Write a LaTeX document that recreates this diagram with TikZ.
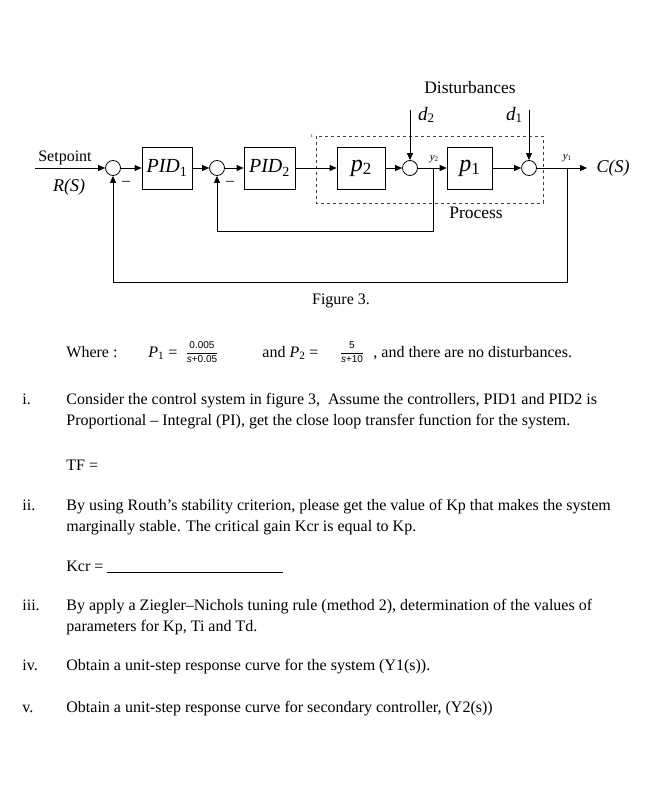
\documentclass[tikz,border=0pt]{standalone}
\usepackage{fontspec}
\setmainfont{Liberation Serif}
\setsansfont{Liberation Sans}
\usetikzlibrary{arrows.meta}
\newcommand{\bigsym}[2]{{\fontsize{24}{24}\selectfont\itshape #1}\raisebox{-3pt}{\fontsize{17}{17}\selectfont #2}}
\newcommand{\dsym}[2]{{\fontsize{19}{19}\selectfont\itshape #1}\raisebox{-2.5pt}{\fontsize{13}{13}\selectfont #2}}
\begin{document}
\begin{tikzpicture}[x=1pt,y=-1pt,
  line width=0.8pt,
  arr/.style={-{Triangle[length=7pt,width=6pt]}},
  blk/.style={draw,minimum width=50pt,minimum height=42pt,inner sep=0pt},
  sumnode/.style={draw,circle,minimum size=15pt,inner sep=0pt},
  txt/.style={font=\fontsize{16}{18}\selectfont,anchor=base west,inner sep=0pt},
  lbl/.style={font=\fontsize{16}{18}\selectfont,inner sep=0pt}]
\useasboundingbox (0,0) rectangle (653,786);

% ---- block diagram ----
\coordinate (in) at (35,168);
\node[sumnode] (s1) at (113,168) {};
\node[blk] (pid1) at (167,168) {\fontsize{20}{22}\selectfont\itshape PID\textsubscript{\upshape 1}};
\node[sumnode] (s2) at (217,168) {};
\node[blk,minimum width=51pt] (pid2) at (269.5,168) {\fontsize{20}{22}\selectfont\itshape PID\textsubscript{\upshape 2}};
\node[blk,minimum width=48pt] (p2) at (361,168) {\bigsym{p}{2}};
\node[sumnode] (s3) at (410,168) {};
\node[blk,minimum width=45pt] (p1) at (469.5,168) {\bigsym{p}{1}};
\node[sumnode] (s4) at (529,168) {};
\coordinate (out) at (587,168);
\coordinate (b2) at (433,168);
\coordinate (b1) at (567,168);
\coordinate (d2top) at (410,110);
\coordinate (d1top) at (529,110);

\draw[dashed,line width=0.6pt,black!75] (316,136) rectangle (543,203);
\node[font=\fontsize{6}{6}\selectfont,text=blue!60!black,inner sep=0pt] (tick) at (312,136) {ı};

\draw[arr] (in) -- (s1);
\draw[arr] (s1) -- (pid1);
\draw[arr] (pid1) -- (s2);
\draw[arr] (s2) -- (pid2);
\draw[arr] (pid2) -- (p2);
\draw[arr] (p2) -- (s3);
\draw[arr] (s3) -- (p1);
\draw[arr] (p1) -- (s4);
\draw[arr] (s4) -- (out);
\draw[arr] (d2top) -- (s3);
\draw[arr] (d1top) -- (s4);
\draw[arr] (b2) |- (217,231) -- (s2);
\draw[arr] (b1) |- (113,282) -- (s1);

\node[lbl] (minus1) at (126,183) {–};
\node[lbl] (minus2) at (230,183) {–};

\node[lbl] (setp) at (65,158) {Setpoint};
\node[lbl,font=\fontsize{18}{20}\selectfont\itshape] (rs) at (69,187) {R(S)};
\node[lbl,font=\fontsize{18}{20}\selectfont\itshape] (cs) at (613,168) {C(S)};
\node[lbl,font=\fontsize{17.5}{20}\selectfont] (dist) at (470,88) {Disturbances};
\node[lbl] (d2l) at (426,115) {\dsym{d}{2}};
\node[lbl] (d1l) at (514,115) {\dsym{d}{1}};
\node[lbl,font=\fontsize{11}{11}\selectfont] (y2l) at (434,159) {\textit{y}\raisebox{-1.5pt}{\fontsize{7}{7}\selectfont 2}};
\node[lbl,font=\fontsize{11}{11}\selectfont] (y1l) at (567,158) {\textit{y}\raisebox{-1.5pt}{\fontsize{7}{7}\selectfont 1}};
\node[lbl,font=\fontsize{17.5}{20}\selectfont] (proc) at (476,213) {Process};

% ---- text ----
\node[lbl] (fig) at (341,301) {Figure 3.};

\node[txt] (where) at (66,357) {Where :};
\node[txt] (p1eq) at (148,357) {\textit{P}\textsubscript{1} =};
\node[inner sep=0pt] (f1) at (202,352) {$\displaystyle\frac{\mbox{\fontsize{10}{11}\sffamily 0.005}}{\mbox{\fontsize{10}{11}\sffamily\itshape s\upshape+0.05}}$};
\node[txt] (and) at (262,357) {and \textit{P}\textsubscript{2} =};
\node[inner sep=0pt] (f2) at (352,352) {$\displaystyle\frac{\mbox{\fontsize{10}{11}\sffamily 5}}{\mbox{\fontsize{10}{11}\sffamily\itshape s\upshape+10}}$};
\node[txt] (nod) at (373,357) {, and there are no disturbances.};

\node[txt] (ni) at (22,404) {i.};
\node[txt] (ti1) at (66,404) {Consider the control system in figure 3,\ \ Assume the controllers, PID1 and PID2 is};
\node[txt] (ti2) at (66,425) {Proportional – Integral (PI), get the close loop transfer function for the system.};
\node[txt] (tf) at (66,470) {TF =};

\node[txt] (nii) at (22,510) {ii.};
\node[txt] (tii1) at (66,510) {By using Routh’s stability criterion, please get the value of Kp that makes the system};
\node[txt] (tii2) at (66,531) {marginally stable. The critical gain Kcr is equal to Kp.};
\node[txt] (kcr) at (66,571) {Kcr =};
\coordinate (ul1) at (107,572);
\coordinate (ul2) at (283,572);
\draw[line width=0.6pt] (ul1) -- (ul2);

\node[txt] (niii) at (22,610) {iii.};
\node[txt] (tiii1) at (66,610) {By apply a Ziegler–Nichols tuning rule (method 2), determination of the values of};
\node[txt] (tiii2) at (66,631) {parameters for Kp, Ti and Td.};

\node[txt] (niv) at (22,670) {iv.};
\node[txt] (tiv) at (66,670) {Obtain a unit-step response curve for the system (Y1(s)).};

\node[txt] (nv) at (22,712) {v.};
\node[txt] (tv) at (66,712) {Obtain a unit-step response curve for secondary controller, (Y2(s))};
\end{tikzpicture}
\end{document}
